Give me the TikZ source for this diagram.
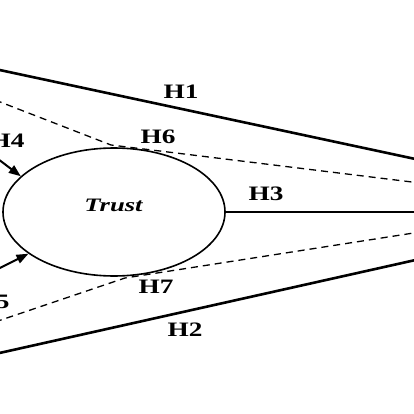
\documentclass[tikz,border=0pt]{standalone}
\usepackage{fontspec}
\setmainfont{Liberation Serif}
\usetikzlibrary{shapes.geometric,arrows.meta}
\newcommand{\hlab}[1]{\scalebox{1.33}[1]{#1}}
\newcommand{\tlab}[1]{\scalebox{1.4}[1]{#1}}
\tikzset{
  hyplabel/.style={font=\bfseries\fontsize{20.5}{24}\selectfont, inner sep=0pt, anchor=base},
  solidpath/.style={line width=2.6pt},
  dashpath/.style={line width=1.3pt, dash pattern=on 7pt off 5pt},
  arrowpath/.style={line width=2pt, -{Triangle[length=12pt,width=9pt]}},
  construct/.style={ellipse, draw, line width=1.6pt, minimum width=222pt, minimum height=128pt, inner sep=0pt}
}
\begin{document}
\begin{tikzpicture}[x=1pt,y=-1pt]
\useasboundingbox (0,0) rectangle (414,414);
\clip (0,0) rectangle (414,414);
% ellipse
\node[construct] (trust) at (114,212) {};
\node[font=\bfseries\itshape\fontsize{19}{22}\selectfont, inner sep=0pt, anchor=base] (trusttext) at (113.5,211) {\tlab{Trust}};
% free ends
\coordinate (h1a) at (-5,69);
\coordinate (h1b) at (420,160);
\coordinate (h2a) at (-5,354);
\coordinate (h2b) at (420,259);
\coordinate (h3b) at (420,212);
\coordinate (d1a) at (-5,100);
\coordinate (d1m) at (111,145);
\coordinate (d1b) at (420,183);
\coordinate (d2a) at (-5,322);
\coordinate (d2m) at (125,278);
\coordinate (d2b) at (420,232);
\coordinate (h4a) at (-10,153);
\coordinate (h5a) at (-10,273);
% connectors
\draw[solidpath] (h1a) -- (h1b);
\draw[solidpath] (h2a) -- (h2b);
\draw[line width=2.4pt] (trust.east) -- (trust.east -| h3b);
\draw[dashpath] (d1a) -- (d1m) -- (d1b);
\draw[dashpath] (d2a) -- (d2m) -- (d2b);
\draw[arrowpath] (h4a) -- (trust.159);
\draw[arrowpath] (h5a) -- (trust.206.6);
% labels
\node[hyplabel] (lh1) at (181,99) {\hlab{H1}};
\node[hyplabel] (lh2) at (185,336) {\hlab{H2}};
\node[hyplabel] (lh3) at (266,200) {\hlab{H3}};
\node[hyplabel] (lh4) at (7,147) {\hlab{H4}};
\node[hyplabel] (lh5) at (-8,308) {\hlab{H5}};
\node[hyplabel] (lh6) at (158,143) {\hlab{H6}};
\node[hyplabel] (lh7) at (156,293) {\hlab{H7}};
\end{tikzpicture}
\end{document}
